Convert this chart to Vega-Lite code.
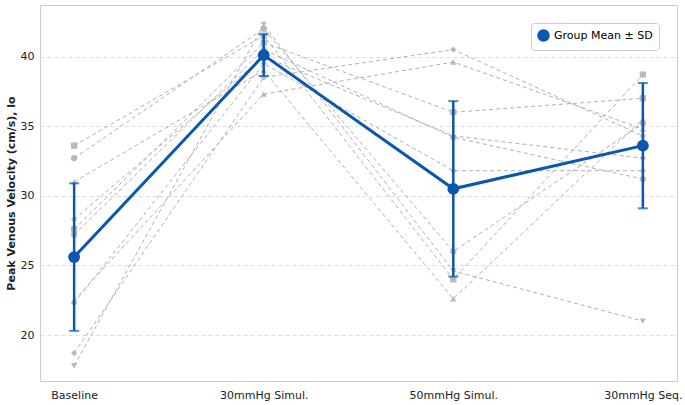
{
  "$schema": "https://vega.github.io/schema/vega-lite/v6.json",
  "width": 685,
  "height": 405,
  "autosize": {"type": "fit", "contains": "padding"},
  "background": "white",
  "config": {
    "font": "DejaVu Sans",
    "view": {"stroke": "#cccccc"},
    "axis": {"labelFontSize": 11, "labelColor": "#222", "gridColor": "#dddddd", "gridDash": [4, 3], "domain": false, "ticks": false, "titleFontSize": 11, "titleColor": "#222"}
  },
  "datasets": {
    "subjects": [
      {"subject": "S1", "cond": "Baseline", "v": 33.6}, {"subject": "S1", "cond": "30mmHg Simul.", "v": 41.5}, {"subject": "S1", "cond": "50mmHg Simul.", "v": 24.0}, {"subject": "S1", "cond": "30mmHg Seq.", "v": 38.7},
      {"subject": "S2", "cond": "Baseline", "v": 32.7}, {"subject": "S2", "cond": "30mmHg Simul.", "v": 42.0}, {"subject": "S2", "cond": "50mmHg Simul.", "v": 26.0}, {"subject": "S2", "cond": "30mmHg Seq.", "v": 35.2},
      {"subject": "S3", "cond": "Baseline", "v": 31.0}, {"subject": "S3", "cond": "30mmHg Simul.", "v": 39.0}, {"subject": "S3", "cond": "50mmHg Simul.", "v": 22.6}, {"subject": "S3", "cond": "30mmHg Seq.", "v": 35.5},
      {"subject": "S4", "cond": "Baseline", "v": 28.3}, {"subject": "S4", "cond": "30mmHg Simul.", "v": 40.0}, {"subject": "S4", "cond": "50mmHg Simul.", "v": 34.3}, {"subject": "S4", "cond": "30mmHg Seq.", "v": 32.7},
      {"subject": "S5", "cond": "Baseline", "v": 27.6}, {"subject": "S5", "cond": "30mmHg Simul.", "v": 41.0}, {"subject": "S5", "cond": "50mmHg Simul.", "v": 36.0}, {"subject": "S5", "cond": "30mmHg Seq.", "v": 37.0},
      {"subject": "S6", "cond": "Baseline", "v": 27.2}, {"subject": "S6", "cond": "30mmHg Simul.", "v": 40.5}, {"subject": "S6", "cond": "50mmHg Simul.", "v": 34.2}, {"subject": "S6", "cond": "30mmHg Seq.", "v": 31.2},
      {"subject": "S7", "cond": "Baseline", "v": 22.5}, {"subject": "S7", "cond": "30mmHg Simul.", "v": 37.3}, {"subject": "S7", "cond": "50mmHg Simul.", "v": 39.6}, {"subject": "S7", "cond": "30mmHg Seq.", "v": 34.8},
      {"subject": "S8", "cond": "Baseline", "v": 22.3}, {"subject": "S8", "cond": "30mmHg Simul.", "v": 39.5}, {"subject": "S8", "cond": "50mmHg Simul.", "v": 31.8}, {"subject": "S8", "cond": "30mmHg Seq.", "v": 31.8},
      {"subject": "S9", "cond": "Baseline", "v": 18.7}, {"subject": "S9", "cond": "30mmHg Simul.", "v": 38.5}, {"subject": "S9", "cond": "50mmHg Simul.", "v": 40.5}, {"subject": "S9", "cond": "30mmHg Seq.", "v": 34.3},
      {"subject": "S10", "cond": "Baseline", "v": 17.8}, {"subject": "S10", "cond": "30mmHg Simul.", "v": 42.3}, {"subject": "S10", "cond": "50mmHg Simul.", "v": 24.6}, {"subject": "S10", "cond": "30mmHg Seq.", "v": 21.0}
    ],
    "mean": [
      {"cond": "Baseline", "mean": 25.6, "lo": 20.3, "hi": 30.9, "series": "Group Mean ± SD"},
      {"cond": "30mmHg Simul.", "mean": 40.1, "lo": 38.6, "hi": 41.6, "series": "Group Mean ± SD"},
      {"cond": "50mmHg Simul.", "mean": 30.5, "lo": 24.2, "hi": 36.8, "series": "Group Mean ± SD"},
      {"cond": "30mmHg Seq.", "mean": 33.6, "lo": 29.1, "hi": 38.1, "series": "Group Mean ± SD"}
    ]
  },
  "encoding": {
    "x": {"field": "cond", "type": "nominal", "sort": ["Baseline", "30mmHg Simul.", "50mmHg Simul.", "30mmHg Seq."], "scale": {"type": "point", "padding": 0.18}, "axis": {"title": null, "labelAngle": 0, "labelPadding": 8}}
  },
  "layer": [
    {
      "data": {"name": "subjects"},
      "mark": {"type": "line", "color": "#b0b0b0", "strokeDash": [4, 3], "strokeWidth": 1},
      "encoding": {
        "y": {"field": "v", "type": "quantitative", "scale": {"domain": [16.7, 43.7], "nice": false, "zero": false}, "axis": {"title": "Peak Venous Velocity (cm/s)", "titleFontWeight": "bold", "values": [20, 25, 30, 35, 40], "labelPadding": 6}},
        "detail": {"field": "subject"}
      }
    },
    {
      "data": {"name": "subjects"},
      "mark": {"type": "point", "filled": true, "color": "#aaaaaa", "opacity": 0.8, "size": 40},
      "encoding": {
        "y": {"field": "v", "type": "quantitative"},
        "shape": {"field": "subject", "type": "nominal", "legend": null, "scale": {"domain": ["S1", "S2", "S3", "S4", "S5", "S6", "S7", "S8", "S9", "S10"], "range": ["square", "circle", "triangle-up", "diamond", "square", "circle", "triangle-up", "diamond", "diamond", "triangle-down"]}}
      }
    },
    {
      "data": {"name": "mean"},
      "mark": {"type": "errorbar", "color": "#0b56b0", "thickness": 2.5, "ticks": {"size": 10, "thickness": 2}},
      "encoding": {
        "y": {"field": "lo", "type": "quantitative"},
        "y2": {"field": "hi"}
      }
    },
    {
      "data": {"name": "mean"},
      "mark": {"type": "line", "strokeWidth": 3, "point": {"size": 140, "filled": true, "opacity": 1}},
      "encoding": {
        "y": {"field": "mean", "type": "quantitative"},
        "color": {"field": "series", "type": "nominal", "scale": {"range": ["#0b56b0"]}, "legend": {"title": null, "orient": "top-right", "labelFontSize": 11, "fillColor": "white", "strokeColor": "#cccccc", "padding": 6, "cornerRadius": 3, "symbolType": "circle", "symbolSize": 120}}
      }
    }
  ]
}
